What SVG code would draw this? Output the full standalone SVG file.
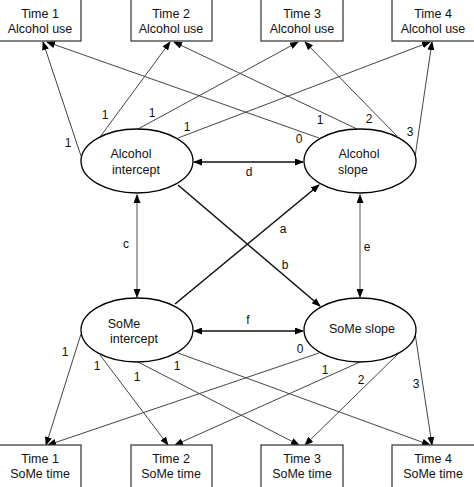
<svg xmlns="http://www.w3.org/2000/svg" width="474" height="487" viewBox="0 0 474 487">
<defs>
<marker id="ah" markerUnits="userSpaceOnUse" markerWidth="9" markerHeight="7" refX="8" refY="3.5" orient="auto-start-reverse" viewBox="0 0 9 7">
<path d="M0,0 L9,3.5 L0,7 z" fill="#000"/>
</marker>
<style>
.box{fill:#fff;stroke:#404040;stroke-width:1.3}
.ell{fill:#fff;stroke:#000;stroke-width:1.3}
.t{font-family:"Liberation Sans",Arial,sans-serif;font-size:12.5px;fill:#111;text-anchor:middle}
.l{font-family:"Liberation Sans",Arial,sans-serif;font-size:12px;fill:#111;text-anchor:middle}
.ld{stroke:#444;stroke-width:1;fill:none;marker-end:url(#ah)}
.cv{stroke:#555;stroke-width:1;fill:none;marker-start:url(#ah);marker-end:url(#ah)}
.cd{stroke:#111;stroke-width:1.4;fill:none;marker-start:url(#ah);marker-end:url(#ah)}
.rg{stroke:#111;stroke-width:1.6;fill:none;marker-end:url(#ah)}
</style>
</defs>
<g id="connectors">
<line class="ld" x1="81" y1="156" x2="43" y2="42"/>
<line class="ld" x1="100" y1="137" x2="170" y2="42"/>
<line class="ld" x1="138" y1="129" x2="298" y2="42"/>
<line class="ld" x1="178" y1="138" x2="430" y2="42"/>
<line class="ld" x1="319" y1="138" x2="47" y2="42"/>
<line class="ld" x1="357" y1="129" x2="174" y2="42"/>
<line class="ld" x1="397" y1="136" x2="305" y2="42"/>
<line class="ld" x1="415" y1="157" x2="432" y2="42"/>
<line class="ld" x1="81" y1="334" x2="46" y2="445"/>
<line class="ld" x1="100" y1="355" x2="168" y2="445"/>
<line class="ld" x1="138" y1="362" x2="299" y2="445"/>
<line class="ld" x1="178" y1="353" x2="430" y2="445"/>
<line class="ld" x1="319" y1="353" x2="48" y2="445"/>
<line class="ld" x1="360" y1="362" x2="175" y2="445"/>
<line class="ld" x1="400" y1="352" x2="305" y2="445"/>
<line class="ld" x1="415" y1="333" x2="432" y2="445"/>
<line class="cd" x1="194" y1="162" x2="303" y2="162"/>
<line class="cd" x1="194" y1="331" x2="303" y2="331"/>
<line class="cv" x1="137" y1="195" x2="137" y2="297"/>
<line class="cv" x1="360" y1="195" x2="360" y2="297"/>
<line class="rg" x1="175" y1="304" x2="319" y2="185"/>
<line class="rg" x1="178" y1="185" x2="320" y2="306"/>
</g>
<g id="labels">
<text class="l" x="68" y="147">1</text>
<text class="l" x="105" y="119">1</text>
<text class="l" x="152" y="117">1</text>
<text class="l" x="187" y="131">1</text>
<text class="l" x="299" y="143">0</text>
<text class="l" x="320" y="124">1</text>
<text class="l" x="369" y="123">2</text>
<text class="l" x="410" y="136">3</text>
<text class="l" x="65" y="356">1</text>
<text class="l" x="97" y="370">1</text>
<text class="l" x="137" y="381">1</text>
<text class="l" x="177" y="370">1</text>
<text class="l" x="300" y="353">0</text>
<text class="l" x="325" y="374">1</text>
<text class="l" x="361" y="384">2</text>
<text class="l" x="416" y="388">3</text>
<text class="l" x="249" y="176">d</text>
<text class="l" x="248" y="324">f</text>
<text class="l" x="126" y="248">c</text>
<text class="l" x="367" y="251">e</text>
<text class="l" x="283" y="233">a</text>
<text class="l" x="285" y="269">b</text>
</g>
<g id="a1"><rect class="box" x="-1" y="-1" width="82" height="42"/><text class="t" x="40" y="18">Time 1</text><text class="t" x="40" y="33">Alcohol use</text></g>
<g id="a2"><rect class="box" x="131" y="-1" width="81" height="42"/><text class="t" x="171" y="18">Time 2</text><text class="t" x="171" y="33">Alcohol use</text></g>
<g id="a3"><rect class="box" x="261" y="-1" width="82" height="42"/><text class="t" x="302" y="18">Time 3</text><text class="t" x="302" y="33">Alcohol use</text></g>
<g id="a4"><rect class="box" x="392" y="-1" width="83" height="42"/><text class="t" x="433" y="18">Time 4</text><text class="t" x="433" y="33">Alcohol use</text></g>
<g id="s1"><rect class="box" x="-1" y="445" width="82" height="44"/><text class="t" x="40" y="463">Time 1</text><text class="t" x="40" y="478">SoMe time</text></g>
<g id="s2"><rect class="box" x="131" y="445" width="81" height="44"/><text class="t" x="171" y="463">Time 2</text><text class="t" x="171" y="478">SoMe time</text></g>
<g id="s3"><rect class="box" x="261" y="445" width="82" height="44"/><text class="t" x="302" y="463">Time 3</text><text class="t" x="302" y="478">SoMe time</text></g>
<g id="s4"><rect class="box" x="392" y="445" width="83" height="44"/><text class="t" x="433" y="463">Time 4</text><text class="t" x="433" y="478">SoMe time</text></g>
<g id="ai"><ellipse class="ell" cx="137" cy="161" rx="56" ry="32"/><text class="t" x="131" y="158">Alcohol</text><text class="t" x="136" y="174">intercept</text></g>
<g id="as"><ellipse class="ell" cx="360" cy="161" rx="56" ry="32"/><text class="t" x="359" y="158">Alcohol</text><text class="t" x="353" y="174">slope</text></g>
<g id="si"><ellipse class="ell" cx="137" cy="330" rx="56" ry="32"/><text class="t" x="124" y="328">SoMe</text><text class="t" x="134" y="343">intercept</text></g>
<g id="ss"><ellipse class="ell" cx="360" cy="330" rx="56" ry="32"/><text class="t" x="362" y="333">SoMe slope</text></g>
</svg>
